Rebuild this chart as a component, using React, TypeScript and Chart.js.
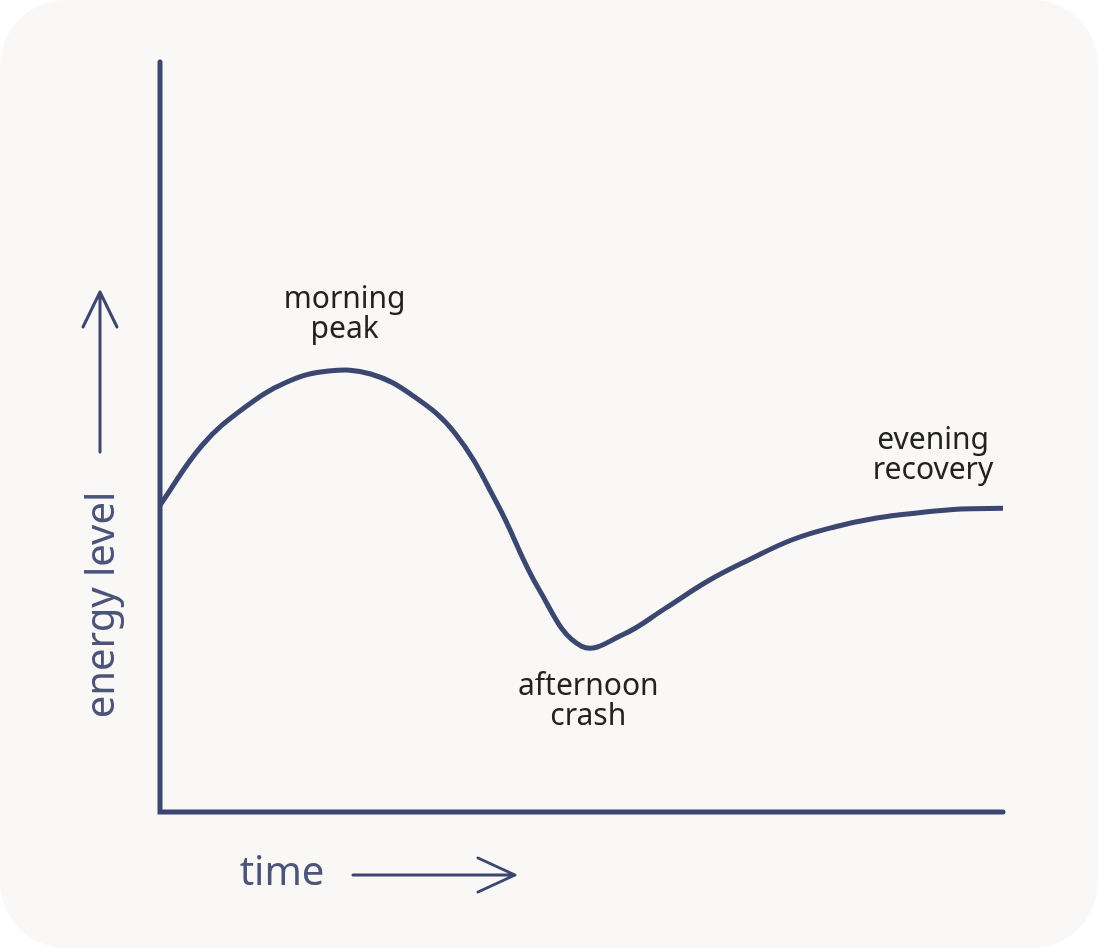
import React, { useEffect, useRef } from 'react';
import { Chart, registerables } from 'chart.js';

Chart.register(...registerables);

// curve: time 0..100 (every 5), energy 0..100
const timePoints = [0, 5, 10, 15, 20, 25, 30, 35, 40, 45, 50, 55, 60, 65, 70, 75, 80, 85, 90, 95, 100];
const energyLevels = [40.9, 48.9, 53.9, 57.3, 58.8, 58.4, 55.5, 50.5, 41.1, 29.6, 22.1, 23.7, 27.2, 30.8, 33.7, 36.3, 38.0, 39.2, 39.9, 40.4, 40.5];

const noteLines = [['morning', 'peak'], ['afternoon', 'crash'], ['evening', 'recovery']];
const noteX = [21.9, 50.8, 91.7];
const noteY = [68.4, 16.8, 49.6];

const xTitle = 'time';
const yTitle = 'energy level';

const NAVY = '#3b4770';
const TITLE_COLOR = '#4b5479';
const NOTE_COLOR = '#222222';

const sketchPlugin = {
  id: 'sketch',
  beforeDatasetsDraw(chart: any) {
    const { ctx, chartArea } = chart;
    const { left, right, top, bottom } = chartArea;
    ctx.save();
    ctx.strokeStyle = NAVY;
    ctx.lineWidth = 5;
    ctx.lineCap = 'round';
    ctx.lineJoin = 'miter';
    ctx.beginPath();
    ctx.moveTo(left, top);
    ctx.lineTo(left, bottom);
    ctx.lineTo(right, bottom);
    ctx.stroke();
    ctx.restore();
  },
  afterDatasetsDraw(chart: any) {
    const { ctx, chartArea, scales } = chart;
    const { left, bottom } = chartArea;
    ctx.save();

    // annotations
    ctx.fillStyle = NOTE_COLOR;
    ctx.font = '30px "Noto Sans"';
    ctx.textAlign = 'center';
    ctx.textBaseline = 'middle';
    noteLines.forEach((lines, i) => {
      const x = scales.x.getPixelForValue(noteX[i]);
      const y = scales.y.getPixelForValue(noteY[i]);
      lines.forEach((t, j) => ctx.fillText(t, x, y + j * 30));
    });

    // axis titles
    ctx.fillStyle = TITLE_COLOR;
    ctx.font = '40px "Noto Sans"';
    ctx.fillText(xTitle, left + 122, bottom + 62);

    ctx.save();
    ctx.translate(left - 57, bottom - 207);
    ctx.rotate(-Math.PI / 2);
    ctx.fillText(yTitle, 0, 0);
    ctx.restore();

    // arrows
    ctx.strokeStyle = NAVY;
    ctx.lineWidth = 3;
    ctx.lineCap = 'round';
    ctx.lineJoin = 'round';

    const ax0 = left + 193;
    const ax1 = left + 355;
    const ay = bottom + 63;
    ctx.beginPath();
    ctx.moveTo(ax0, ay);
    ctx.lineTo(ax1, ay);
    ctx.moveTo(ax1 - 37, ay - 17);
    ctx.lineTo(ax1, ay);
    ctx.lineTo(ax1 - 37, ay + 17);
    ctx.stroke();

    const vx = left - 60;
    const vy0 = bottom - 360;
    const vy1 = bottom - 520;
    ctx.beginPath();
    ctx.moveTo(vx, vy0);
    ctx.lineTo(vx, vy1);
    ctx.moveTo(vx - 17, vy1 + 35);
    ctx.lineTo(vx, vy1);
    ctx.lineTo(vx + 17, vy1 + 35);
    ctx.stroke();

    ctx.restore();
  },
};

const EnergyChart: React.FC = () => {
  const canvasRef = useRef<HTMLCanvasElement | null>(null);
  const chartRef = useRef<Chart<'line'> | null>(null);

  useEffect(() => {
    const ctx = canvasRef.current?.getContext('2d');
    if (!ctx) return;

    chartRef.current = new Chart(ctx, {
      type: 'line',
      data: {
        datasets: [
          {
            data: timePoints.map((t, i) => ({ x: t, y: energyLevels[i] })),
            borderColor: NAVY,
            borderWidth: 5,
            pointRadius: 0,
            tension: 0.4,
            fill: false,
            clip: false as any,
          },
        ],
      },
      options: {
        animation: false,
        responsive: false,
        layout: { padding: { left: 160, right: 97, top: 62, bottom: 138 } },
        plugins: { legend: { display: false }, tooltip: { enabled: false } },
        scales: {
          x: { type: 'linear', min: 0, max: 100, display: false },
          y: { type: 'linear', min: 0, max: 100, display: false },
        },
      },
      plugins: [sketchPlugin],
    });

    return () => {
      chartRef.current?.destroy();
      chartRef.current = null;
    };
  }, []);

  return <canvas ref={canvasRef} width={1100} height={950} style={{ display: 'block' }} />;
};

export default function App() {
  return (
    <div style={{ position: 'fixed', left: 0, top: 0, width: 1100, height: 950, background: '#ffffff' }}>
      <div
        style={{
          position: 'absolute',
          left: 0,
          top: 0,
          width: 1098,
          height: 948,
          borderRadius: 66,
          background: '#f9f8f6',
        }}
      />
      <div style={{ position: 'absolute', left: 0, top: 0 }}>
        <EnergyChart />
      </div>
    </div>
  );
}
